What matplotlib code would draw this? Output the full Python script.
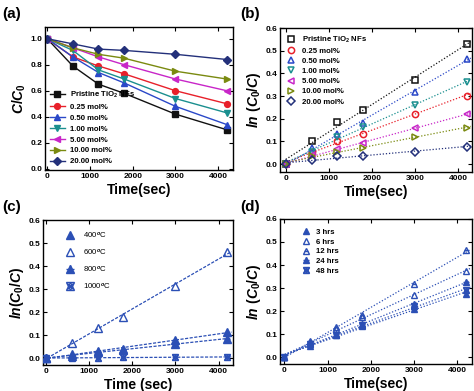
"""Four-panel photocatalytic degradation figure: C/C0 and ln(C0/C) vs time."""

import numpy as np
import matplotlib
matplotlib.use("Agg")
import matplotlib.pyplot as plt
from matplotlib.legend_handler import HandlerTuple

plt.rcParams["font.family"] = ["Liberation Sans", "DejaVu Sans"]
plt.rcParams["mathtext.fontset"] = "custom"
plt.rcParams["mathtext.it"] = "Liberation Sans:italic:bold"
plt.rcParams["mathtext.rm"] = "Liberation Sans:bold"

TIME = [0, 600, 1200, 1800, 3000, 4200]

# (a) C/C0
A_LABELS = ["Pristine TiO$_2$ NFs", "0.25 mol%", "0.50 mol%", "1.00 mol%",
            "5.00 mol%", "10.00 mol%", "20.00 mol%"]
A_VALUES = [
    [1.0, 0.79, 0.65, 0.58, 0.42, 0.30],
    [1.0, 0.86, 0.79, 0.73, 0.60, 0.50],
    [1.0, 0.86, 0.74, 0.66, 0.48, 0.34],
    [1.0, 0.91, 0.76, 0.69, 0.54, 0.43],
    [1.0, 0.93, 0.86, 0.80, 0.69, 0.60],
    [1.0, 0.93, 0.88, 0.85, 0.75, 0.69],
    [1.0, 0.96, 0.92, 0.91, 0.88, 0.84],
]

# (b) ln(C0/C)
B_VALUES = [
    [0.0, 0.103, 0.187, 0.239, 0.373, 0.528],
    [0.0, 0.055, 0.100, 0.134, 0.223, 0.302],
    [0.0, 0.069, 0.131, 0.180, 0.319, 0.466],
    [0.0, 0.055, 0.121, 0.165, 0.260, 0.361],
    [0.0, 0.040, 0.065, 0.094, 0.158, 0.220],
    [0.0, 0.037, 0.055, 0.069, 0.121, 0.161],
    [0.0, 0.016, 0.035, 0.037, 0.055, 0.077],
]
COLORS = ["#111111", "#e8202a", "#2a48c8", "#1a8f8f", "#c826c8", "#7a8a10", "#23307a"]
MARKERS = ["s", "o", "^", "v", "<", ">", "D"]

# (c) calcination temperature
C_LABELS = ["400$^o$C", "600$^o$C", "800$^o$C", "1000$^o$C"]
C_VALUES = [
    [0.0, 0.017, 0.032, 0.040, 0.080, 0.113],
    [0.0, 0.068, 0.130, 0.179, 0.315, 0.462],
    [0.0, 0.012, 0.029, 0.036, 0.064, 0.084],
    [0.0, 0.002, 0.003, 0.004, 0.005, 0.005],
]

# (d) calcination time
D_LABELS = ["3 hrs", "6 hrs", "12 hrs", "24 hrs", "48 hrs"]
D_VALUES = [
    [0.0, 0.050, 0.095, 0.135, 0.210, 0.275],
    [0.0, 0.065, 0.120, 0.175, 0.270, 0.373],
    [0.0, 0.070, 0.130, 0.185, 0.316, 0.465],
    [0.0, 0.060, 0.100, 0.145, 0.230, 0.325],
    [0.0, 0.055, 0.098, 0.140, 0.220, 0.290],
]

BLUE = "#2b4fb5"

# marker recipes: list of (marker, filled, size scale)
STYLE_FILLED_TRI = [("^", True, 1.0)]
STYLE_HOLLOW_TRI = [("^", False, 1.0)]
STYLE_BAR_TRI = [("^", False, 1.0), ("_", False, 0.6)]
STYLE_TREE = [("^", True, 1.0), ("+", False, 0.9)]
STYLE_HOURGLASS = [("^", False, 0.9), ("v", False, 0.9), ("x", False, 0.8)]
C_STYLES = [STYLE_FILLED_TRI, STYLE_HOLLOW_TRI, STYLE_TREE, STYLE_HOURGLASS]
D_STYLES = [STYLE_FILLED_TRI, STYLE_HOLLOW_TRI, STYLE_BAR_TRI, STYLE_TREE, STYLE_HOURGLASS]


def style_axes(ax, xlim, ylim, yticks):
    ax.set_xlim(*xlim)
    ax.set_ylim(*ylim)
    ax.set_xticks([0, 1000, 2000, 3000, 4000])
    ax.set_yticks(yticks)
    ax.tick_params(direction="in", top=True, right=True, labelsize=6,
                   length=3, width=0.8, pad=2)
    for lab in ax.get_xticklabels() + ax.get_yticklabels():
        lab.set_fontweight("bold")
    for sp in ax.spines.values():
        sp.set_linewidth(1.0)


def fit_line(ax, values, color, ls):
    t = np.array(TIME, dtype=float)
    v = np.array(values, dtype=float)
    slope, icpt = np.polyfit(t, v, 1)
    xs = np.array([-60, 4300])
    ax.plot(xs, slope * xs + icpt, color=color, ls=ls, lw=0.9, zorder=1)


def draw_combo(ax, values, recipe, ms=5.5):
    handles = []
    for mk, filled, scale in recipe:
        h, = ax.plot(TIME, values, ls="none", marker=mk, ms=ms * scale,
                     mfc=BLUE if filled else "none", mec=BLUE, mew=1.0,
                     color=BLUE, zorder=3)
        handles.append(h)
    return tuple(handles)


fig = plt.figure(figsize=(4.74, 3.91), dpi=100)

# ---- (a)
ax = fig.add_axes([0.095, 0.565, 0.397, 0.366])
for vals, lab, col, mk in zip(A_VALUES, A_LABELS, COLORS, MARKERS):
    ax.plot(TIME, vals, color=col, lw=1.0, marker=mk, ms=4.2 if mk != "D" else 3.6,
            mfc=col, mec=col, label=lab)
style_axes(ax, (-50, 4350), (-0.01, 1.09), [0.0, 0.2, 0.4, 0.6, 0.8, 1.0])
ax.set_ylabel("$C/C_0$", fontsize=10, labelpad=2)
ax.set_xlabel("Time(sec)", fontsize=10, fontweight="bold", labelpad=2)
ax.legend(loc="lower left", frameon=False, handlelength=2.0,
          handletextpad=0.6, labelspacing=0.45, borderaxespad=0.2,
          prop={"weight": "bold", "size": 5.6})

# ---- (b)
ax = fig.add_axes([0.591, 0.560, 0.405, 0.368])
for vals, lab, col, mk in zip(B_VALUES, A_LABELS, COLORS, MARKERS):
    fit_line(ax, vals, col, (0, (1, 1.5)))
    ax.plot(TIME, vals, ls="none", marker=mk, ms=4.5 if mk != "D" else 4.0,
            mfc="none", mec=col, mew=1.1, label=lab)
style_axes(ax, (-130, 4330), (-0.035, 0.6), [0.0, 0.1, 0.2, 0.3, 0.4, 0.5, 0.6])
ax.set_ylabel("$ln\\ (C_0/C)$", fontsize=10, labelpad=2)
ax.set_xlabel("Time(sec)", fontsize=10, fontweight="bold", labelpad=2)
ax.legend(loc="upper left", frameon=False, handlelength=1.2, handletextpad=0.8,
          labelspacing=0.35, borderaxespad=0.4, prop={"weight": "bold", "size": 5.6})

# ---- (c)
ax = fig.add_axes([0.091, 0.066, 0.401, 0.371])
c_handles = []
for vals, recipe in zip(C_VALUES, C_STYLES):
    fit_line(ax, vals, BLUE, (0, (2.5, 1.2)))
    c_handles.append(draw_combo(ax, vals, recipe))
style_axes(ax, (-60, 4340), (-0.03, 0.6), [0.0, 0.1, 0.2, 0.3, 0.4, 0.5, 0.6])
ax.set_ylabel("$ln(C_0/C)$", fontsize=10, labelpad=2)
ax.set_xlabel("Time (sec)", fontsize=10, fontweight="bold", labelpad=2)
ax.legend(c_handles, C_LABELS, loc="upper left", frameon=False, handlelength=1.5,
          handletextpad=0.9, labelspacing=0.9, borderaxespad=0.9,
          prop={"size": 5.6}, bbox_to_anchor=(0.06, 1.0), markerscale=1.1,
          handler_map={tuple: HandlerTuple(ndivide=1)})

# ---- (d)
ax = fig.add_axes([0.591, 0.069, 0.405, 0.371])
d_handles = []
for vals, recipe in zip(D_VALUES, D_STYLES):
    fit_line(ax, vals, BLUE, (0, (1, 1.5)))
    d_handles.append(draw_combo(ax, vals, recipe, ms=5))
style_axes(ax, (-100, 4340), (-0.03, 0.6), [0.0, 0.1, 0.2, 0.3, 0.4, 0.5, 0.6])
ax.set_ylabel("$ln\\ (C_0/C)$", fontsize=10, labelpad=2)
ax.set_xlabel("Time(sec)", fontsize=10, fontweight="bold", labelpad=2)
ax.legend(d_handles, D_LABELS, loc="upper left", frameon=False, handlelength=1.3,
          handletextpad=0.6, labelspacing=0.3, borderaxespad=0.8,
          prop={"weight": "bold", "size": 5.6}, bbox_to_anchor=(0.06, 1.0),
          handler_map={tuple: HandlerTuple(ndivide=1)})

# panel letters
for x, y, t in [(0.004, 0.965, "(a)"), (0.506, 0.965, "(b)"),
                (0.004, 0.47, "(c)"), (0.506, 0.47, "(d)")]:
    fig.text(x, y, t, fontsize=11, fontweight="bold", ha="left", va="center")

fig.savefig("out.png", dpi=100)
